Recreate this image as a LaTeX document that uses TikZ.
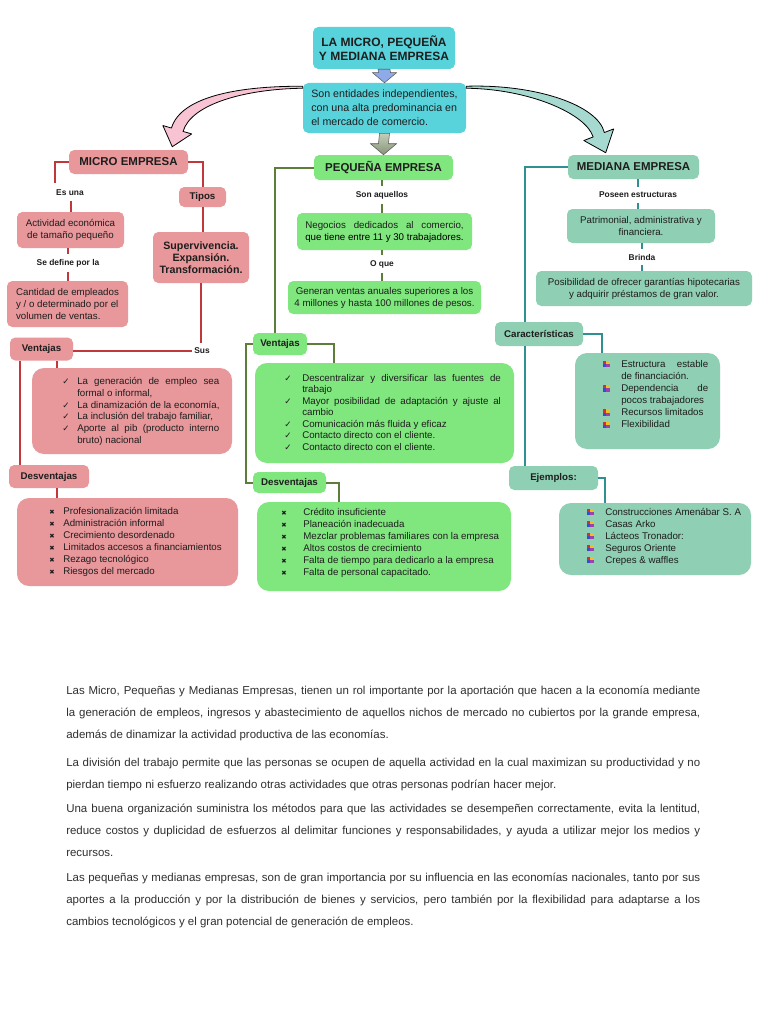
\documentclass[tikz,border=0pt]{standalone}
\usepackage{fontspec}
\setmainfont{Liberation Sans}
\newfontfamily\dejavu{DejaVu Sans}
\usetikzlibrary{calc}
\definecolor{cyanb}{HTML}{58D3DC}
\definecolor{pinkb}{HTML}{E8979B}
\definecolor{redl}{HTML}{C0373C}
\definecolor{greenb}{HTML}{80E67E}
\definecolor{greenl}{HTML}{5C7E3A}
\definecolor{mintb}{HTML}{8FCFB3}
\definecolor{teall}{HTML}{2E9090}
\definecolor{txt}{HTML}{1E1E1E}
\definecolor{ptxt}{HTML}{303030}
\definecolor{arrblue}{HTML}{8EAAE8}
\definecolor{arrolive}{HTML}{9DAE8B}
\definecolor{arrpink}{HTML}{F8C3D3}
\definecolor{arrteal}{HTML}{A6D9D0}
\definecolor{wred}{HTML}{D03030}
\definecolor{wyel}{HTML}{F0C020}
\definecolor{wblu}{HTML}{3050D0}
\definecolor{wpur}{HTML}{A040B0}
\newcommand{\bul}[2][10.5pt]{\makebox[#1][l]{#2}}
\newcommand{\chk}{{\dejavu\fontsize{6.5}{6}\selectfont ✓}}
\newcommand{\crs}{{\dejavu\fontsize{4.8}{6}\selectfont ✖}}
\newcommand{\wing}{\makebox[5pt][l]{\textcolor{wred}{\rule[2.4pt]{2.4pt}{2.4pt}}\textcolor{wyel}{\rule[2.4pt]{2.4pt}{2.4pt}}\hspace*{-4.8pt}\textcolor{wblu}{\rule{2.4pt}{2.4pt}}\textcolor{wpur}{\rule{2.4pt}{2.4pt}}}}
\newsavebox{\negbox}
\begin{document}
\sbox{\negbox}{\fontsize{7.3}{9}\selectfont que tiene entre 11 y 30 trabajadores.}%
\begin{tikzpicture}[x=0.75pt,y=-0.75pt,
 px/.style 2 args={minimum width=#1*0.75pt, minimum height=#2*0.75pt},
 bx/.style={rounded corners=4pt, inner sep=1pt, text=txt, font=\fontsize{7.3}{9}\selectfont},
 cbox/.style={bx, fill=cyanb},
 pbox/.style={bx, fill=pinkb},
 gbox/.style={bx, fill=greenb},
 mbox/.style={bx, fill=mintb},
 big/.style={rounded corners=9pt},
 hd/.style={font=\bfseries\fontsize{8.6}{10}\selectfont},
 sh/.style={font=\bfseries\fontsize{7.3}{9}\selectfont},
 lbl/.style={font=\bfseries\fontsize{6.3}{7}\selectfont, text=txt, inner xsep=1.5pt, inner ysep=3.5pt},
 lst/.style={font=\fontsize{7.3}{9}\selectfont, text=txt, inner sep=0pt, anchor=north west, align=left},
 rl/.style={draw=redl, line width=1.5pt},
 gl/.style={draw=greenl, line width=1.5pt},
 tl/.style={draw=teall, line width=1.5pt},
 ptx/.style={font=\fontsize{8.6}{10}\selectfont, text=ptxt, inner sep=0pt, anchor=base west}]
\useasboundingbox (0,0) rectangle (768,1024);
\fill[white] (0,0) rectangle (768,1024);

% ---------- top ----------
\node[cbox, px={142}{42}, align=center, font=\bfseries\fontsize{9}{10.5}\selectfont] (title) at (384,48) {LA MICRO, PEQUEÑA\\Y MEDIANA EMPRESA};
\node[cbox, px={163}{50}, align=left, font=\fontsize{8}{10.5}\selectfont] (ent) at (384.5,108) {Son entidades independientes,\\con una alta predominancia en\\el mercado de comercio.};

% ---------- micro ----------
\node[pbox, px={119}{24}, hd] (micro) at (128.5,162) {MICRO EMPRESA};
\node[lbl] (esuna) at (70,193) {Es una};
\node[pbox, px={107}{36}, align=center] (act) at (70.5,230) {Actividad económica\\de tamaño pequeño};
\node[lbl] (sedef) at (68,263) {Se define por la};
\node[pbox, px={121}{46}, align=left] (cant) at (67.5,304) {Cantidad de empleados\\y / o determinado por el\\volumen de ventas.};
\node[pbox, px={47}{20}, sh] (tipos) at (202.5,197) {Tipos};
\node[pbox, px={96}{51}, align=center, font=\bfseries\fontsize{8}{9.2}\selectfont] (sup) at (201,257.5) {Supervivencia.\\Expansión.\\Transformación.};
\node[lbl] (sus) at (202,351) {Sus};
\node[pbox, px={63}{23}, sh] (mv) at (41.5,349) {Ventajas};
\node[pbox, big, px={200}{86}] (mvl) at (132,411) {};
\node[lst, font=\fontsize{7.3}{8.85}\selectfont] (mvlt) at (62,377) {\bul[11.25pt]{\chk}\makebox[106.5pt][s]{La generación de empleo sea}\\\bul[11.25pt]{}formal o informal,\\\bul[11.25pt]{\chk}La dinamización de la economía,\\\bul[11.25pt]{\chk}La inclusión del trabajo familiar,\\\bul[11.25pt]{\chk}\makebox[106.5pt][s]{Aporte al pib (producto interno}\\\bul[11.25pt]{}bruto) nacional};
\node[pbox, px={80}{23}, sh] (md) at (49,476.5) {Desventajas};
\node[pbox, big, px={221}{88}] (mdl) at (127.5,542) {};
\node[lst] (mdlt) at (49,507) {\bul{\crs}Profesionalización limitada\\\bul{\crs}Administración informal\\\bul{\crs}Crecimiento desordenado\\\bul{\crs}Limitados accesos a financiamientos\\\bul{\crs}Rezago tecnológico\\\bul{\crs}Riesgos del mercado};

% ---------- pequena ----------
\node[gbox, px={139}{25}, hd] (peq) at (383.5,167.5) {PEQUEÑA EMPRESA};
\node[lbl] (sonaq) at (382,195) {Son aquellos};
\node[gbox, px={175}{37}, align=left] (neg) at (384.5,231.5) {\makebox[\wd\negbox][s]{Negocios dedicados al comercio,}\\\usebox{\negbox}};
\node[lbl] (oque) at (382,264) {O que};
\node[gbox, px={193}{33}, align=center] (gen) at (384.5,297.5) {Generan ventas anuales superiores a los\\4 millones y hasta 100 millones de pesos.};
\node[gbox, px={54}{22}, sh] (pv) at (280,344) {Ventajas};
\node[gbox, big, px={259}{100}] (pvl) at (384.5,413) {};
\node[lst, font=\fontsize{7.3}{8.6}\selectfont] (pvlt) at (284,374) {\bul[13.5pt]{\chk}\makebox[149pt][s]{Descentralizar y diversificar las fuentes de}\\\bul[13.5pt]{}trabajo\\\bul[13.5pt]{\chk}\makebox[149pt][s]{Mayor posibilidad de adaptación y ajuste al}\\\bul[13.5pt]{}cambio\\\bul[13.5pt]{\chk}Comunicación más fluida y eficaz\\\bul[13.5pt]{\chk}Contacto directo con el cliente.\\\bul[13.5pt]{\chk}Contacto directo con el cliente.};
\node[gbox, px={73}{21}, sh] (pd) at (289.5,482.5) {Desventajas};
\node[gbox, big, px={254}{89}] (pdl) at (384,546.5) {};
\node[lst] (pdlt) at (281,508) {\bul[16.5pt]{\crs}Crédito insuficiente\\\bul[16.5pt]{\crs}Planeación inadecuada\\\bul[16.5pt]{\crs}Mezclar problemas familiares con la empresa\\\bul[16.5pt]{\crs}Altos costos de crecimiento\\\bul[16.5pt]{\crs}Falta de tiempo para dedicarlo a la empresa\\\bul[16.5pt]{\crs}Falta de personal capacitado.};

% ---------- mediana ----------
\node[mbox, px={131}{24}, hd] (med) at (633.5,167) {MEDIANA EMPRESA};
\node[lbl] (posest) at (638,195) {Poseen estructuras};
\node[mbox, px={148}{34}, align=center] (pat) at (641,226) {Patrimonial, administrativa y\\financiera.};
\node[lbl] (brinda) at (642,257) {Brinda};
\node[mbox, px={216}{35}, align=center] (pos) at (644,288.5) {Posibilidad de ofrecer garantías hipotecarias\\y adquirir préstamos de gran valor.};
\node[mbox, px={88}{24}, sh] (car) at (539,334) {Características};
\node[mbox, big, px={145}{96}] (carl) at (647.5,401) {};
\node[lst, font=\fontsize{7.3}{9.1}\selectfont] (carlt) at (603,360) {\bul[13.5pt]{\wing}\makebox[65.25pt][s]{Estructura estable}\\\bul[13.5pt]{}de financiación.\\\bul[13.5pt]{\wing}\makebox[65.25pt][s]{Dependencia de}\\\bul[13.5pt]{}pocos trabajadores\\\bul[13.5pt]{\wing}Recursos limitados\\\bul[13.5pt]{\wing}Flexibilidad};
\node[mbox, px={89}{24}, sh] (ej) at (553.5,478) {Ejemplos:};
\node[mbox, big, px={192}{72}] (ejl) at (655,539) {};
\node[lst] (ejlt) at (587,508) {\bul[13.5pt]{\wing}Construcciones Amenábar S. A\\\bul[13.5pt]{\wing}Casas Arko\\\bul[13.5pt]{\wing}Lácteos Tronador:\\\bul[13.5pt]{\wing}Seguros Oriente\\\bul[13.5pt]{\wing}Crepes \& waffles};

% ---------- block arrows ----------
\draw[fill=arrblue, draw=black!65, line width=0.4pt] ($(title.south)+(-6,0)$) -- ($(ent.north)+(-6,-10)$) -- ($(ent.north)+(-12,-10)$) -- (ent.north) -- ($(ent.north)+(12,-10)$) -- ($(ent.north)+(6,-10)$) -- ($(title.south)+(6,0)$) -- cycle;
\draw[top color=arrolive!60!white, bottom color=arrolive!85!black, draw=black!65, line width=0.4pt] ($(ent.south)+(-5,0)$) -- ($(peq.north)+(-5,-11)$) -- ($(peq.north)+(-13,-11)$) -- (peq.north) -- ($(peq.north)+(13,-11)$) -- ($(peq.north)+(5,-11)$) -- ($(ent.south)+(5,0)$) -- cycle;

% curved left arrow
\coordinate (ls1) at ($(ent.north west)+(0,3.5)$);
\coordinate (ls2) at ($(ent.north west)+(0,5.5)$);
\coordinate (lt) at ($(micro.north east)+(-16,-3)$);
\draw[fill=arrpink, draw=black, line width=0.6pt, line join=round]
 (ls1) .. controls (240,86) and (181,96) .. ($(lt)+(-0.8,-18.7)$) -- ($(lt)+(-9.4,-21.2)$) -- (lt) -- ($(lt)+(19.4,-12.8)$) -- ($(lt)+(10.8,-15.3)$) .. controls (191,104) and (245,89) .. (ls2) -- cycle;
% curved right arrow
\coordinate (rs1) at ($(ent.north east)+(0,3.5)$);
\coordinate (rs2) at ($(ent.north east)+(0,5.5)$);
\coordinate (rt) at ($(med.north west)+(38,-2)$);
\draw[fill=arrteal, draw=black, line width=0.6pt, line join=round]
 (rs1) .. controls (535,84) and (597.7,104.8) .. ($(rt)+(-1.4,-20.2)$) -- ($(rt)+(7.9,-23.8)$) -- (rt) -- ($(rt)+(-21.9,-12.2)$) -- ($(rt)+(-12.6,-15.8)$) .. controls (586,113.9) and (530,89) .. (rs2) -- cycle;

% ---------- red connectors ----------
\coordinate (esl) at (55,183);
\draw[rl] (micro.west) -| (esl);
\draw[rl] (act.north |- esuna.south) -- (act.north);
\draw[rl] (sedef.north |- act.south) -- (sedef.north);
\draw[rl] (sedef.south) -- (sedef.south |- cant.north);
\draw[rl] (micro.east) -| (tipos.north);
\draw[rl] (tipos.south) -- (tipos.south |- sup.north);
\draw[rl] (sup.south) -- (sup.south |- sus.north);
\draw[rl] (sus.west) -- (sus.west -| mv.east);
\coordinate (mvb) at ($(mv.south west)+(47,0)$);
\draw[rl] (mvb) -- (mvb |- mvl.north);
\coordinate (mvb2) at ($(mv.south west)+(10,0)$);
\draw[rl] (mvb2) -- (mvb2 |- md.north);
\coordinate (mdb) at ($(md.south west)+(48,0)$);
\draw[rl] (mdb) -- (mdb |- mdl.north);

% ---------- green connectors ----------
\coordinate (pvt) at ($(pv.north)+(-5,0)$);
\draw[gl] (peq.west) -| (pvt);
\draw[gl] (pv.west) -- ++(-7,0) |- (pd.west);
\coordinate (pvlt2) at ($(pvl.north west)+(79,0)$);
\draw[gl] (pv.east) -| (pvlt2);
\coordinate (pdlt2) at ($(pdl.north west)+(82,0)$);
\draw[gl] (pd.east) -| (pdlt2);
\draw[gl, line width=1pt] (sonaq.north |- peq.south) -- (sonaq.north);
\draw[gl, line width=1pt] (sonaq.south) -- (sonaq.south |- neg.north);
\draw[gl, line width=1pt] (oque.north |- neg.south) -- (oque.north);
\draw[gl, line width=1pt] (oque.south) -- (oque.south |- gen.north);

% ---------- teal connectors ----------
\coordinate (cart) at ($(car.north west)+(30,0)$);
\draw[tl] (med.west) -| (cart);
\coordinate (carlt2) at ($(carl.north west)+(27,0)$);
\draw[tl] (car.east) -| (carlt2);
\coordinate (carb) at ($(car.south west)+(30,0)$);
\draw[tl] (carb) -- (carb |- ej.north);
\coordinate (ejlt2) at ($(ejl.north west)+(46,0)$);
\draw[tl] (ej.east) -| (ejlt2);
\draw[tl, line width=1pt] (posest.north |- med.south) -- (posest.north);
\draw[tl, line width=1pt] (posest.south) -- (posest.south |- pat.north);
\draw[tl, line width=1pt] (brinda.north |- pat.south) -- (brinda.north);
\draw[tl, line width=1pt] (brinda.south) -- (brinda.south |- pos.north);

% ---------- paragraphs ----------
\node[ptx] (p1a) at (66,694) {\makebox[475.5pt][s]{Las Micro, Pequeñas y Medianas Empresas, tienen un rol importante por la aportación que hacen a la economía mediante}};
\node[ptx] (p1b) at (66,716) {\makebox[475.5pt][s]{la generación de empleos, ingresos y abastecimiento de aquellos nichos de mercado no cubiertos por la grande empresa,}};
\node[ptx] (p1c) at (66,738) {además de dinamizar la actividad productiva de las economías.};
\node[ptx] (p2a) at (66,766) {\makebox[475.5pt][s]{La división del trabajo permite que las personas se ocupen de aquella actividad en la cual maximizan su productividad y no}};
\node[ptx] (p2b) at (66,788) {pierdan tiempo ni esfuerzo realizando otras actividades que otras personas podrían hacer mejor.};
\node[ptx] (p3a) at (66,812) {\makebox[475.5pt][s]{Una buena organización suministra los métodos para que las actividades se desempeñen correctamente, evita la lentitud,}};
\node[ptx] (p3b) at (66,834) {\makebox[475.5pt][s]{reduce costos y duplicidad de esfuerzos al delimitar funciones y responsabilidades, y ayuda a utilizar mejor los medios y}};
\node[ptx] (p3c) at (66,856) {recursos.};
\node[ptx] (p4a) at (66,881) {\makebox[475.5pt][s]{Las pequeñas y medianas empresas, son de gran importancia por su influencia en las economías nacionales, tanto por sus}};
\node[ptx] (p4b) at (66,903) {\makebox[475.5pt][s]{aportes a la producción y por la distribución de bienes y servicios, pero también por la flexibilidad para adaptarse a los}};
\node[ptx] (p4c) at (66,925) {cambios tecnológicos y el gran potencial de generación de empleos.};
\end{tikzpicture}
\end{document}
